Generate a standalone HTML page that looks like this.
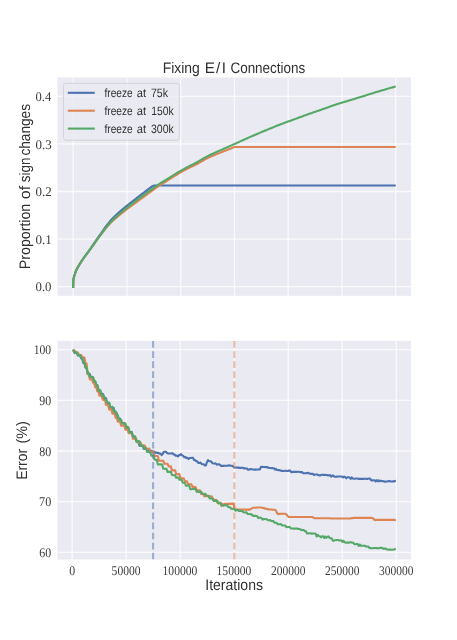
<!DOCTYPE html>
<html><head><meta charset="utf-8"><title>Fixing E/I Connections</title>
<style>
html,body{margin:0;padding:0;background:#fff;}
svg{display:block;text-rendering:geometricPrecision;}
.ss{font-family:"Liberation Sans","DejaVu Sans",sans-serif;fill:#303030;}
.sr{font-family:"Liberation Serif","DejaVu Serif",serif;fill:#3c3c3c;}
</style></head><body>
<svg width="457" height="640" viewBox="0 0 457 640">
<rect width="457" height="640" fill="#fff"/>
<defs><clipPath id="ct"><rect x="57.5" y="77.5" width="353.5" height="218.4"/></clipPath><clipPath id="cb"><rect x="57.5" y="340.9" width="353.5" height="218.6"/></clipPath></defs>
<rect x="57.5" y="77.45" width="353.5" height="218.4" fill="#eaeaf2"/>
<rect x="57.5" y="340.9" width="353.5" height="218.6" fill="#eaeaf2"/>
<g stroke="#fff" stroke-opacity="0.75" stroke-width="1.3"><line x1="73.20" x2="73.20" y1="77.45" y2="295.9"/><line x1="72.20" x2="72.20" y1="340.9" y2="559.5"/><line x1="126.95" x2="126.95" y1="77.45" y2="295.9"/><line x1="126.22" x2="126.22" y1="340.9" y2="559.5"/><line x1="180.70" x2="180.70" y1="77.45" y2="295.9"/><line x1="180.23" x2="180.23" y1="340.9" y2="559.5"/><line x1="234.45" x2="234.45" y1="77.45" y2="295.9"/><line x1="234.25" x2="234.25" y1="340.9" y2="559.5"/><line x1="288.20" x2="288.20" y1="77.45" y2="295.9"/><line x1="288.27" x2="288.27" y1="340.9" y2="559.5"/><line x1="341.95" x2="341.95" y1="77.45" y2="295.9"/><line x1="342.28" x2="342.28" y1="340.9" y2="559.5"/><line x1="395.70" x2="395.70" y1="77.45" y2="295.9"/><line x1="396.30" x2="396.30" y1="340.9" y2="559.5"/><line x1="57.5" x2="411.0" y1="286.70" y2="286.70"/><line x1="57.5" x2="411.0" y1="239.10" y2="239.10"/><line x1="57.5" x2="411.0" y1="191.50" y2="191.50"/><line x1="57.5" x2="411.0" y1="143.90" y2="143.90"/><line x1="57.5" x2="411.0" y1="96.30" y2="96.30"/><line x1="57.5" x2="411.0" y1="552.40" y2="552.40"/><line x1="57.5" x2="411.0" y1="501.70" y2="501.70"/><line x1="57.5" x2="411.0" y1="451.00" y2="451.00"/><line x1="57.5" x2="411.0" y1="400.30" y2="400.30"/><line x1="57.5" x2="411.0" y1="349.60" y2="349.60"/></g>
<g clip-path="url(#ct)" fill="none" stroke-width="2.1" stroke-linejoin="round" stroke-linecap="square">
<polyline stroke="#4c72b0" points="73.20,286.90 73.21,286.30 73.21,285.46 73.21,284.47 73.23,283.42 73.25,282.40 73.30,281.50 73.37,280.71 73.44,279.95 73.54,279.22 73.64,278.53 73.77,277.85 73.90,277.20 74.06,276.57 74.24,275.98 74.43,275.41 74.63,274.86 74.82,274.32 75.00,273.80 75.14,273.33 75.24,272.91 75.34,272.52 75.47,272.09 75.64,271.60 75.90,271.00 76.25,270.27 76.67,269.43 77.15,268.53 77.66,267.59 78.18,266.65 78.70,265.75 79.22,264.88 79.75,264.00 80.29,263.12 80.85,262.25 81.42,261.38 82.00,260.50 82.60,259.62 83.21,258.75 83.83,257.88 84.47,257.00 85.11,256.12 85.75,255.21 86.40,254.30 87.05,253.40 87.71,252.50 88.37,251.60 89.04,250.68 89.70,249.75 90.37,248.79 91.05,247.81 91.73,246.83 92.40,245.84 93.06,244.87 93.70,243.94 94.31,243.04 94.88,242.18 95.44,241.34 96.01,240.49 96.59,239.64 97.20,238.75 97.85,237.83 98.52,236.89 99.20,235.94 99.90,234.98 100.60,234.00 101.30,233.01 101.99,232.02 102.66,231.03 103.35,230.03 104.05,229.01 104.78,227.98 105.55,226.93 106.38,225.84 107.26,224.71 108.17,223.56 109.09,222.42 110.00,221.31 110.90,220.27 111.77,219.30 112.64,218.38 113.50,217.49 114.36,216.63 115.23,215.79 116.10,214.99 116.98,214.18 117.86,213.39 118.74,212.61 119.62,211.84 120.51,211.08 121.40,210.31 122.29,209.56 123.17,208.82 124.05,208.08 124.94,207.35 125.86,206.60 126.80,205.84 127.79,205.05 128.81,204.24 129.86,203.42 130.91,202.61 131.93,201.82 132.90,201.06 133.82,200.33 134.70,199.64 135.55,198.96 136.39,198.30 137.24,197.64 138.10,196.96 138.98,196.28 139.86,195.60 140.75,194.94 141.64,194.27 142.52,193.61 143.40,192.94 144.25,192.29 145.08,191.65 145.90,191.02 146.74,190.37 147.64,189.69 148.60,188.98 149.67,188.18 150.84,187.31 152.05,186.41 153.90,185.50 394.70,185.50"/>
<polyline stroke="#dd8452" points="73.20,286.90 73.21,286.30 73.21,285.46 73.21,284.47 73.23,283.42 73.25,282.40 73.30,281.50 73.37,280.71 73.44,279.95 73.54,279.22 73.64,278.53 73.77,277.85 73.90,277.20 74.06,276.57 74.24,275.98 74.43,275.41 74.63,274.86 74.82,274.32 75.00,273.80 75.14,273.33 75.24,272.91 75.34,272.52 75.47,272.09 75.64,271.60 75.90,271.00 76.25,270.27 76.67,269.43 77.15,268.53 77.66,267.59 78.18,266.65 78.70,265.75 79.22,264.88 79.75,264.00 80.29,263.12 80.85,262.25 81.42,261.38 82.00,260.50 82.60,259.62 83.21,258.75 83.83,257.88 84.47,257.00 85.11,256.12 85.75,255.25 86.40,254.38 87.05,253.51 87.71,252.65 88.37,251.78 89.04,250.90 89.70,250.00 90.37,249.09 91.05,248.16 91.73,247.22 92.40,246.28 93.06,245.36 93.70,244.47 94.31,243.62 94.88,242.81 95.44,242.00 96.01,241.20 96.59,240.39 97.20,239.54 97.85,238.67 98.52,237.79 99.20,236.88 99.90,235.97 100.60,235.07 101.30,234.17 101.99,233.27 102.66,232.36 103.35,231.44 104.05,230.51 104.78,229.57 105.55,228.61 106.38,227.63 107.26,226.60 108.17,225.56 109.09,224.54 110.00,223.55 110.90,222.62 111.77,221.75 112.64,220.94 113.50,220.16 114.36,219.40 115.23,218.65 116.10,217.89 116.98,217.13 117.86,216.38 118.74,215.64 119.62,214.91 120.51,214.19 121.40,213.47 122.29,212.76 123.17,212.06 124.05,211.36 124.94,210.67 125.86,209.97 126.80,209.25 127.79,208.51 128.81,207.75 129.86,206.98 130.91,206.22 131.93,205.47 132.90,204.76 133.82,204.08 134.70,203.43 135.55,202.79 136.39,202.17 137.24,201.55 138.10,200.89 138.98,200.24 139.86,199.60 140.75,198.96 141.64,198.33 142.52,197.69 143.40,197.06 144.25,196.43 145.08,195.82 145.90,195.21 146.74,194.59 147.64,193.93 148.60,193.22 149.67,192.43 150.84,191.57 152.05,190.68 153.26,189.79 154.43,188.94 155.50,188.17 156.47,187.49 157.37,186.87 158.23,186.28 159.06,185.73 159.89,185.18 160.75,184.63 161.61,184.10 162.45,183.60 163.28,183.12 164.14,182.62 165.04,182.09 166.00,181.50 167.02,180.85 168.08,180.15 169.19,179.43 170.33,178.67 171.50,177.91 172.70,177.15 173.94,176.38 175.22,175.59 176.53,174.79 177.86,173.99 179.21,173.18 180.55,172.41 181.91,171.65 183.31,170.88 184.72,170.12 186.11,169.37 187.48,168.65 188.80,167.97 190.03,167.36 191.19,166.81 192.32,166.30 193.47,165.77 194.68,165.19 196.00,164.51 197.44,163.72 198.96,162.85 200.54,161.92 202.17,160.97 203.83,160.03 205.50,159.14 207.24,158.26 209.09,157.37 210.97,156.51 212.80,155.71 214.50,154.98 216.00,154.34 217.19,153.84 218.09,153.48 218.88,153.19 219.69,152.88 220.68,152.51 222.00,151.98 223.74,151.28 225.78,150.45 228.01,149.56 230.29,148.65 232.49,147.76 234.50,146.95 394.70,146.95"/>
<polyline stroke="#55a868" points="73.20,286.90 73.21,286.30 73.21,285.46 73.21,284.47 73.23,283.42 73.25,282.40 73.30,281.50 73.37,280.71 73.44,279.95 73.54,279.22 73.64,278.53 73.77,277.85 73.90,277.20 74.06,276.57 74.24,275.98 74.43,275.41 74.63,274.86 74.82,274.32 75.00,273.80 75.14,273.33 75.24,272.91 75.34,272.52 75.47,272.09 75.64,271.60 75.90,271.00 76.25,270.27 76.67,269.43 77.15,268.53 77.66,267.59 78.18,266.65 78.70,265.75 79.22,264.88 79.75,264.00 80.29,263.12 80.85,262.25 81.42,261.38 82.00,260.50 82.60,259.62 83.21,258.75 83.83,257.88 84.47,257.00 85.11,256.12 85.75,255.25 86.40,254.38 87.05,253.51 87.71,252.65 88.37,251.78 89.04,250.90 89.70,250.00 90.37,249.08 91.05,248.14 91.73,247.18 92.40,246.24 93.06,245.30 93.70,244.40 94.31,243.54 94.88,242.71 95.44,241.89 96.01,241.08 96.59,240.26 97.20,239.40 97.85,238.52 98.52,237.61 99.20,236.70 99.90,235.77 100.60,234.84 101.30,233.90 101.99,232.96 102.66,232.01 103.35,231.05 104.05,230.08 104.78,229.10 105.55,228.10 106.38,227.06 107.26,225.99 108.17,224.90 109.09,223.82 110.00,222.78 110.90,221.80 111.77,220.89 112.64,220.02 113.50,219.19 114.36,218.39 115.23,217.60 116.10,216.80 116.98,216.01 117.86,215.23 118.74,214.46 119.62,213.70 120.51,212.95 121.40,212.20 122.29,211.46 123.17,210.73 124.05,210.01 124.94,209.28 125.86,208.55 126.80,207.80 127.79,207.03 128.81,206.23 129.86,205.43 130.91,204.63 131.93,203.85 132.90,203.10 133.82,202.39 134.70,201.71 135.55,201.04 136.39,200.39 137.24,199.75 138.10,199.10 138.98,198.46 139.86,197.82 140.75,197.19 141.64,196.56 142.52,195.93 143.40,195.30 144.25,194.68 145.08,194.08 145.90,193.48 146.74,192.86 147.64,192.20 148.60,191.50 149.67,190.72 150.84,189.87 152.05,188.98 153.26,188.10 154.43,187.26 155.50,186.50 156.47,185.83 157.37,185.21 158.23,184.63 159.06,184.08 159.89,183.54 160.75,183.00 161.61,182.47 162.45,181.98 163.28,181.50 164.14,181.01 165.04,180.48 166.00,179.90 167.02,179.26 168.08,178.57 169.19,177.85 170.33,177.11 171.50,176.35 172.70,175.60 173.94,174.84 175.22,174.06 176.53,173.27 177.86,172.47 179.21,171.68 180.55,170.90 181.91,170.12 183.31,169.34 184.72,168.55 186.11,167.79 187.48,167.05 188.80,166.35 190.03,165.72 191.19,165.16 192.32,164.63 193.47,164.09 194.68,163.49 196.00,162.80 197.44,161.99 198.96,161.10 200.54,160.15 202.17,159.18 203.83,158.22 205.50,157.30 207.24,156.40 209.09,155.48 210.97,154.57 212.80,153.70 214.50,152.90 216.00,152.20 217.19,151.66 218.09,151.26 218.88,150.93 219.69,150.60 220.68,150.18 222.00,149.60 223.74,148.83 225.78,147.91 228.01,146.92 230.29,145.90 232.49,144.90 234.50,144.00 236.32,143.18 238.04,142.39 239.69,141.64 241.29,140.91 242.86,140.20 244.40,139.50 245.88,138.84 247.27,138.21 248.62,137.61 250.00,137.01 251.44,136.38 253.00,135.70 254.69,134.97 256.48,134.21 258.33,133.42 260.23,132.62 262.16,131.81 264.10,131.00 266.06,130.18 268.07,129.35 270.11,128.51 272.15,127.67 274.19,126.85 276.20,126.05 278.19,125.27 280.19,124.51 282.17,123.77 284.14,123.03 286.08,122.31 288.00,121.60 289.90,120.90 291.78,120.21 293.64,119.54 295.47,118.88 297.26,118.23 299.00,117.60 300.66,116.99 302.24,116.40 303.78,115.82 305.31,115.26 306.88,114.68 308.50,114.10 310.19,113.51 311.93,112.91 313.69,112.31 315.46,111.71 317.24,111.11 319.00,110.50 320.73,109.89 322.44,109.29 324.15,108.68 325.88,108.07 327.66,107.44 329.50,106.80 331.52,106.10 333.74,105.35 335.99,104.58 338.15,103.85 340.07,103.21 341.60,102.70 342.54,102.39 342.96,102.26 343.13,102.22 343.35,102.17 343.88,102.03 345.00,101.70 346.79,101.17 349.04,100.51 351.60,99.75 354.34,98.94 357.10,98.11 359.75,97.30 362.31,96.50 364.90,95.67 367.52,94.82 370.16,93.97 372.82,93.13 375.50,92.30 378.37,91.44 381.46,90.54 384.57,89.64 387.49,88.80 390.04,88.07 392.00,87.50 393.28,87.13 394.02,86.91 394.38,86.80 394.51,86.76 394.57,86.74 394.70,86.70"/>
</g>
<g clip-path="url(#cb)" fill="none" stroke-width="2.1" stroke-linejoin="round" stroke-linecap="square">
<polyline stroke="#4c72b0" points="73.60,350.90 74.68,352.90 75.76,352.76 76.84,352.76 77.92,355.53 79.00,355.53 80.08,355.41 81.16,358.36 82.24,358.46 83.32,363.01 84.40,362.97 85.48,367.62 86.56,367.62 87.64,374.08 88.72,373.99 89.80,373.99 90.88,377.55 91.96,377.55 93.04,377.81 94.12,381.54 95.20,381.53 96.28,385.44 97.36,385.27 98.44,389.73 99.52,389.91 100.60,393.96 101.68,393.84 102.76,393.84 103.84,398.14 104.92,398.14 106.00,398.10 107.08,403.23 108.16,403.40 109.24,403.40 110.32,407.62 111.40,407.62 112.48,407.71 113.56,407.71 114.64,413.06 115.72,413.06 116.80,413.32 117.88,418.55 118.96,418.54 120.04,418.54 121.12,422.74 122.20,422.74 123.28,423.02 124.36,423.02 125.44,427.08 126.52,427.08 127.60,426.88 128.68,431.93 129.76,432.08 130.84,432.08 131.92,432.15 133.00,437.16 134.08,437.27 135.16,437.27 136.24,441.03 137.32,441.03 138.40,441.29 139.48,445.82 140.56,445.86 141.64,445.86 142.72,445.66 143.80,449.03 144.70,448.40 153.00,451.60 154.08,451.64 155.16,452.61 156.24,452.61 157.32,452.85 158.40,452.85 159.48,453.64 160.56,453.64 161.64,455.09 162.72,453.98 163.80,451.73 164.88,451.73 165.96,451.70 167.04,453.12 168.12,453.48 169.20,453.48 170.28,453.46 171.36,453.46 172.44,453.13 173.52,454.46 174.60,454.47 175.68,455.81 176.76,455.64 177.84,456.46 178.92,455.17 180.00,455.17 181.08,454.11 182.16,455.35 183.24,455.85 184.32,457.31 185.40,457.15 186.48,458.08 187.56,457.90 188.64,459.02 189.72,458.03 190.80,458.03 191.88,457.78 192.96,457.78 194.04,460.01 195.12,460.01 196.20,461.18 197.28,461.18 198.36,463.00 199.44,463.00 200.52,462.58 201.60,463.93 202.68,464.26 203.76,464.26 204.84,465.45 205.92,465.45 207.00,462.03 208.08,460.13 209.16,461.30 210.24,461.30 211.32,461.59 212.40,463.25 213.48,463.46 214.56,463.46 215.64,463.34 216.72,464.65 217.80,464.35 218.88,464.35 219.96,464.77 221.04,465.90 222.12,465.88 223.20,465.88 224.28,465.80 225.36,465.80 226.44,465.78 227.52,465.78 228.60,465.42 229.68,465.42 230.76,465.81 231.84,465.81 232.92,466.19 234.00,467.55 235.08,467.46 236.16,467.46 237.24,467.65 238.32,467.65 239.40,467.87 240.48,467.87 241.56,467.70 242.64,467.70 243.72,468.38 244.80,468.38 245.88,468.53 246.96,468.53 248.04,469.66 249.12,469.66 250.20,469.13 251.28,469.13 252.36,469.55 253.44,469.55 254.52,469.65 255.60,469.65 256.68,469.51 257.76,469.51 258.84,469.43 259.92,469.43 261.00,466.84 262.08,466.84 263.16,467.03 264.24,467.03 265.32,467.10 266.40,467.10 267.48,466.95 268.56,467.95 269.64,467.98 270.72,467.98 271.80,468.17 272.88,468.17 273.96,468.33 275.04,469.71 276.12,468.93 277.20,470.05 278.28,470.09 279.36,470.09 280.44,470.63 281.52,470.63 282.60,470.96 283.68,470.96 284.76,470.69 285.84,470.69 286.92,471.05 288.00,471.05 289.08,470.58 290.16,470.58 291.24,472.09 292.32,472.09 293.40,471.87 294.48,471.87 295.56,471.89 296.64,471.89 297.72,471.74 298.80,471.74 299.88,472.08 300.96,472.08 302.04,472.02 303.12,473.22 304.20,473.31 305.28,473.31 306.36,473.10 307.44,473.10 308.52,472.82 309.60,473.60 310.68,473.86 311.76,473.86 312.84,473.87 313.92,474.93 315.00,474.50 316.08,474.50 317.16,474.48 318.24,475.07 319.32,475.38 320.40,475.38 321.48,474.81 322.56,474.81 323.64,474.84 324.72,474.84 325.80,475.04 326.88,475.04 327.96,475.40 329.04,475.40 330.12,475.10 331.20,476.60 332.28,475.66 333.36,475.66 334.44,476.72 335.52,476.72 336.60,476.58 337.68,476.58 338.76,476.46 339.84,476.46 340.92,476.48 342.00,476.48 343.08,477.47 344.16,476.62 345.24,477.10 346.32,478.33 347.40,477.25 348.48,477.25 349.56,477.45 350.64,478.84 351.72,477.40 352.80,478.40 353.88,478.70 354.96,478.70 356.04,478.45 357.12,478.45 358.20,478.86 359.28,478.86 360.36,478.85 361.44,478.85 362.52,478.85 363.60,478.85 364.68,478.70 365.76,478.70 366.84,478.86 367.92,478.86 369.00,478.44 370.08,478.44 371.16,480.34 372.24,480.34 373.32,480.22 374.40,480.22 375.48,481.39 376.56,480.19 377.64,481.40 378.72,480.30 379.80,481.27 380.88,480.74 381.96,481.12 383.04,481.12 384.12,481.58 385.20,481.58 386.28,481.50 387.36,481.50 388.44,481.12 389.52,481.12 390.60,481.48 391.68,481.48 392.76,481.36 393.84,481.36 394.85,481.10"/>
<polyline stroke="#dd8452" points="73.60,350.50 74.68,350.47 75.76,352.67 76.84,352.67 77.92,352.56 79.00,354.97 80.08,354.93 81.16,354.93 82.24,357.41 83.32,357.41 84.40,357.48 85.48,363.29 86.56,363.43 87.64,374.01 88.72,373.95 89.80,379.40 90.88,379.40 91.96,379.40 93.04,382.70 94.12,382.70 95.20,387.13 96.28,387.13 97.36,391.52 98.44,391.52 99.52,395.70 100.60,395.70 101.68,395.68 102.76,399.74 103.84,399.90 104.92,399.90 106.00,404.97 107.08,404.97 108.16,405.19 109.24,409.61 110.32,409.39 111.40,409.39 112.48,413.66 113.56,413.66 114.64,413.55 115.72,417.95 116.80,418.13 117.88,421.65 118.96,421.56 120.04,421.56 121.12,425.65 122.20,425.65 123.28,425.58 124.36,425.58 125.44,429.77 126.52,429.77 127.60,429.59 128.68,433.27 129.76,433.31 130.84,433.31 131.92,433.40 133.00,438.74 134.08,438.74 135.16,438.74 136.24,438.67 137.32,442.40 138.40,442.40 139.48,442.40 140.56,442.34 141.64,445.56 142.72,445.62 143.80,445.62 144.88,445.63 145.96,448.64 147.04,448.70 148.12,448.70 149.20,448.61 150.28,451.84 151.36,451.82 152.44,451.82 153.52,451.93 154.60,456.10 155.68,456.05 156.76,456.05 157.84,455.97 158.92,460.67 160.00,460.74 161.08,460.74 162.16,460.68 163.24,460.68 164.32,463.79 165.40,463.79 166.48,463.74 167.56,463.74 168.64,466.35 169.72,466.35 170.80,466.31 171.88,470.26 172.96,470.40 174.04,470.40 175.12,470.27 176.20,473.93 177.28,474.10 178.36,474.10 179.44,474.17 180.52,478.36 181.60,478.29 182.68,478.29 183.76,478.24 184.84,481.24 185.92,481.39 187.00,481.39 188.08,484.11 189.16,484.11 190.24,484.19 191.32,484.19 192.40,486.85 193.48,486.85 194.56,487.09 195.64,487.09 196.72,490.21 197.80,490.21 198.88,490.19 199.96,490.19 201.04,493.85 202.12,493.85 203.20,493.77 204.28,496.31 205.36,496.28 206.44,496.28 207.52,496.19 208.60,496.19 209.68,496.21 210.76,496.21 211.84,496.42 212.92,500.10 214.00,500.08 215.08,500.08 216.16,499.87 217.24,502.58 218.32,502.70 219.40,502.70 220.48,502.81 221.56,506.09 222.64,503.85 223.72,505.25 224.80,503.77 225.88,503.77 226.96,503.89 233.60,503.60 234.68,509.64 235.76,509.64 236.84,509.64 237.92,509.64 239.00,509.64 240.08,509.64 241.16,509.64 242.24,509.64 243.32,509.64 244.40,509.64 245.48,509.64 246.56,509.64 247.64,509.64 248.72,509.64 249.80,509.64 250.88,508.93 251.96,508.37 253.04,507.78 254.12,507.78 255.20,507.78 256.28,507.78 257.36,507.46 258.44,507.46 259.52,507.46 260.60,507.46 261.68,507.46 262.76,508.05 263.84,508.05 264.92,508.60 266.00,508.60 267.08,509.12 268.16,509.12 269.24,509.43 270.32,509.43 271.40,509.43 272.48,509.78 273.56,509.78 274.64,509.78 275.72,510.13 276.80,512.61 277.88,514.07 278.96,513.73 280.04,514.06 281.12,513.75 282.20,513.75 283.28,513.75 284.36,513.75 285.44,513.75 286.52,514.61 287.60,516.06 288.68,516.96 289.76,516.96 290.84,516.96 291.92,516.96 293.00,516.96 294.08,516.96 295.16,516.96 296.24,516.96 297.32,516.96 298.40,516.96 299.48,516.96 300.56,516.96 301.64,516.96 302.72,516.96 303.80,516.96 304.88,516.96 305.96,516.96 307.04,516.96 308.12,516.96 309.20,516.96 310.28,516.96 311.36,516.96 312.44,516.96 313.52,517.77 314.60,518.19 315.68,518.19 316.76,518.19 317.84,518.19 318.92,518.19 320.00,518.19 321.08,518.19 322.16,518.19 323.24,518.19 324.32,518.19 325.40,518.19 326.48,518.19 327.56,518.19 328.64,518.19 329.72,518.19 330.80,518.57 331.88,518.57 332.96,518.57 334.04,518.57 335.12,518.57 336.20,518.57 337.28,518.57 338.36,518.57 339.44,518.57 340.52,518.57 341.60,518.57 342.68,518.57 343.76,518.57 344.84,518.57 345.92,518.57 347.00,518.57 348.08,518.57 349.16,518.57 350.24,518.57 351.32,518.15 352.40,518.15 353.48,517.87 354.56,517.87 355.64,517.87 356.72,517.87 357.80,517.87 358.88,517.87 359.96,517.87 361.04,517.87 362.12,517.87 363.20,517.87 364.28,517.87 365.36,517.87 366.44,517.87 367.52,517.87 368.60,517.87 369.68,517.87 370.76,517.87 371.84,517.87 372.92,518.27 374.00,519.50 375.08,520.16 376.16,519.86 377.24,519.86 378.32,519.86 379.40,519.86 380.48,519.86 381.56,519.86 382.64,519.86 383.72,519.86 384.80,519.86 385.88,519.86 386.96,519.86 388.04,519.86 389.12,519.86 390.20,519.86 391.28,519.86 392.36,519.86 393.44,519.86 394.52,519.86 394.85,520.00"/>
<polyline stroke="#55a868" points="73.60,350.50 74.68,352.31 75.76,352.42 76.84,352.42 77.92,355.19 79.00,355.19 80.08,355.10 81.16,357.60 82.24,357.84 83.32,362.06 84.40,362.19 85.48,367.42 86.56,367.35 87.64,373.06 88.72,372.90 89.80,376.77 90.88,376.69 91.96,376.69 93.04,376.92 94.12,381.34 95.20,381.15 96.28,384.60 97.36,385.05 98.44,390.70 99.52,390.62 100.60,390.62 101.68,395.33 102.76,395.33 103.84,395.28 104.92,399.06 106.00,398.97 107.08,402.50 108.16,402.43 109.24,402.43 110.32,406.98 111.40,406.98 112.48,406.79 113.56,411.26 114.64,411.21 115.72,411.21 116.80,415.33 117.88,415.33 118.96,419.73 120.04,419.73 121.12,419.75 122.20,423.64 123.28,423.41 124.36,423.41 125.44,423.59 126.52,427.82 127.60,427.62 128.68,427.62 129.76,432.51 130.84,432.51 131.92,432.95 133.00,436.47 134.08,436.27 135.16,436.27 136.24,441.66 137.32,441.66 138.40,441.34 139.48,441.34 140.56,445.65 141.64,445.65 142.72,445.62 143.80,447.98 144.88,448.03 145.96,448.03 147.04,452.00 148.12,452.00 149.20,452.10 150.28,452.10 151.36,455.76 152.44,455.76 153.52,455.70 154.60,459.78 155.68,459.79 156.76,459.79 157.84,464.56 158.92,464.56 160.00,464.40 161.08,464.40 162.16,464.51 163.24,468.65 164.32,468.75 165.40,468.75 166.48,468.79 167.56,472.06 168.64,471.91 169.72,471.91 170.80,471.64 171.88,474.79 172.96,475.21 174.04,475.21 175.12,475.02 176.20,477.81 177.28,477.63 178.36,477.63 179.44,479.79 180.52,479.79 181.60,479.49 182.68,482.71 183.76,482.75 184.84,482.75 185.92,485.68 187.00,485.68 188.08,485.55 189.16,485.55 190.24,489.28 191.32,489.28 192.40,489.06 193.48,489.06 194.56,489.05 195.64,489.05 196.72,491.79 197.80,491.79 198.88,491.97 199.96,491.97 201.04,491.57 202.12,493.60 203.20,494.04 204.28,494.04 205.36,493.70 206.44,495.71 207.52,495.68 208.60,495.68 209.68,498.39 210.76,498.39 211.84,498.48 212.92,498.48 214.00,501.03 215.08,501.03 216.16,500.68 217.24,500.68 218.32,503.36 219.40,503.36 220.48,502.93 221.56,505.04 222.64,505.53 223.72,505.53 224.80,505.17 225.88,505.17 226.96,505.07 228.04,506.83 229.12,507.29 230.20,507.29 231.28,508.77 232.36,508.77 233.44,509.10 234.52,509.10 235.60,510.76 236.68,509.72 237.76,509.78 238.84,510.93 239.92,511.07 241.00,511.07 242.08,510.80 243.16,512.09 244.24,512.49 245.32,512.49 246.40,512.17 247.48,513.96 248.56,514.03 249.64,514.03 250.72,514.39 251.80,514.39 252.88,515.89 253.96,515.89 255.04,515.89 256.12,515.89 257.20,516.30 258.28,518.01 259.36,517.66 260.44,517.66 261.52,518.16 262.60,519.55 263.68,519.01 264.76,519.01 265.84,519.25 266.92,519.25 268.00,520.25 269.08,520.25 270.16,520.02 271.24,521.07 272.32,521.08 273.40,521.08 274.48,522.70 275.56,522.70 276.64,522.75 277.72,524.29 278.80,524.32 279.88,524.32 280.96,524.04 282.04,525.43 283.12,525.43 284.20,525.43 285.28,525.47 286.36,527.15 287.44,527.02 288.52,527.02 289.60,527.04 290.68,528.18 291.76,528.57 292.84,528.57 293.92,528.64 295.00,528.64 296.08,528.51 297.16,528.51 298.24,529.06 299.32,529.06 300.40,529.30 301.48,530.14 302.56,529.95 303.64,529.95 304.72,531.08 305.80,531.08 306.88,533.34 307.96,533.34 309.04,533.27 310.12,533.27 311.20,533.60 312.28,533.60 313.36,533.52 314.44,533.52 315.52,533.55 316.60,536.47 317.68,534.82 318.76,536.00 319.84,536.17 320.92,537.43 322.00,536.34 323.08,536.34 324.16,537.87 325.24,536.48 326.32,537.86 327.40,536.72 328.48,536.39 329.56,537.90 330.64,538.39 331.72,538.39 332.80,540.58 333.88,540.58 334.96,540.24 336.04,540.24 337.12,540.07 338.20,540.07 339.28,540.47 340.36,540.47 341.44,540.28 342.52,541.98 343.60,540.85 344.68,542.30 345.76,542.60 346.84,542.60 347.92,542.67 349.00,542.67 350.08,542.28 351.16,542.28 352.24,542.68 353.32,542.68 354.40,544.28 355.48,544.28 356.56,544.01 357.64,544.01 358.72,545.93 359.80,544.51 360.88,545.72 361.96,545.72 363.04,545.79 364.12,545.79 365.20,545.90 366.28,546.73 367.36,546.49 368.44,546.49 369.52,548.14 370.60,548.14 371.68,548.32 372.76,548.32 373.84,548.07 374.92,548.07 376.00,548.12 377.08,548.12 378.16,548.22 379.24,548.22 380.32,547.85 381.40,547.85 382.48,548.06 383.56,548.84 384.64,548.58 385.72,548.58 386.80,549.56 387.88,549.56 388.96,549.59 390.04,549.59 391.12,549.74 392.20,549.74 393.28,549.54 394.36,549.54 394.85,549.20"/>
<line x1="153.1" x2="153.1" y1="559.5" y2="340.9" stroke="#4c72b0" stroke-opacity="0.5" stroke-dasharray="6.7 3.38" stroke-linecap="butt"/>
<line x1="234.3" x2="234.3" y1="559.5" y2="340.9" stroke="#dd8452" stroke-opacity="0.5" stroke-dasharray="6.7 3.38" stroke-linecap="butt"/>
</g>
<rect x="63.5" y="83.3" width="115.9" height="56.9" rx="2.6" ry="2.6" fill="#eaeaf2" fill-opacity="0.8" stroke="#cfcfd4" stroke-opacity="0.9" stroke-width="1"/>
<line x1="68.85" x2="93.75" y1="92.8" y2="92.8" stroke="#4c72b0" stroke-width="2.1" stroke-linecap="square"/>
<line x1="68.85" x2="93.75" y1="110.7" y2="110.7" stroke="#dd8452" stroke-width="2.1" stroke-linecap="square"/>
<line x1="68.85" x2="93.75" y1="128.6" y2="128.6" stroke="#55a868" stroke-width="2.1" stroke-linecap="square"/>
<text x="162.65" y="72.90" class="ss" font-size="15.2" textLength="37.20" lengthAdjust="spacingAndGlyphs">Fixing</text>
<text x="204.65" y="72.90" class="ss" font-size="15.2" textLength="21.25" lengthAdjust="spacing">E/I</text>
<text x="230.45" y="72.90" class="ss" font-size="15.2" textLength="74.75" lengthAdjust="spacingAndGlyphs">Connections</text>
<text x="205.25" y="590.30" class="ss" font-size="15.2" textLength="57.75" lengthAdjust="spacingAndGlyphs">Iterations</text>
<text x="104.45" y="96.95" class="ss" font-size="12.1" textLength="28.20" lengthAdjust="spacingAndGlyphs">freeze</text>
<text x="136.70" y="96.95" class="ss" font-size="12.1" textLength="9.35" lengthAdjust="spacingAndGlyphs">at</text>
<text x="151.00" y="96.95" class="ss" font-size="12.1" textLength="17.00" lengthAdjust="spacingAndGlyphs">75k</text>
<text x="104.45" y="114.85" class="ss" font-size="12.1" textLength="28.20" lengthAdjust="spacingAndGlyphs">freeze</text>
<text x="136.70" y="114.85" class="ss" font-size="12.1" textLength="9.35" lengthAdjust="spacingAndGlyphs">at</text>
<text x="151.35" y="114.85" class="ss" font-size="12.1" textLength="22.45" lengthAdjust="spacingAndGlyphs">150k</text>
<text x="104.45" y="132.75" class="ss" font-size="12.1" textLength="28.20" lengthAdjust="spacingAndGlyphs">freeze</text>
<text x="136.70" y="132.75" class="ss" font-size="12.1" textLength="9.35" lengthAdjust="spacingAndGlyphs">at</text>
<text x="151.00" y="132.75" class="ss" font-size="12.1" textLength="22.90" lengthAdjust="spacingAndGlyphs">300k</text>
<text transform="translate(30.30,269.15) rotate(-90)" class="ss" font-size="15.2" textLength="65.40" lengthAdjust="spacingAndGlyphs">Proportion</text>
<text transform="translate(30.30,199.15) rotate(-90)" class="ss" font-size="15.2" textLength="13.45" lengthAdjust="spacingAndGlyphs">of</text>
<text transform="translate(30.30,182.30) rotate(-90)" class="ss" font-size="15.2" textLength="24.75" lengthAdjust="spacingAndGlyphs">sign</text>
<text transform="translate(30.30,155.60) rotate(-90)" class="ss" font-size="15.2" textLength="51.65" lengthAdjust="spacingAndGlyphs">changes</text>
<text transform="translate(26.90,479.85) rotate(-90)" class="ss" font-size="15.2" textLength="30.85" lengthAdjust="spacingAndGlyphs">Error</text>
<text transform="translate(26.90,443.60) rotate(-90)" class="ss" font-size="15.2" textLength="22.50" lengthAdjust="spacingAndGlyphs">(%)</text>
<text x="35.50" y="291.35" class="sr" font-size="13.2" textLength="15.95" lengthAdjust="spacingAndGlyphs">0.0</text>
<text x="35.50" y="243.75" class="sr" font-size="13.2" textLength="16.45" lengthAdjust="spacingAndGlyphs">0.1</text>
<text x="35.50" y="196.15" class="sr" font-size="13.2" textLength="16.20" lengthAdjust="spacingAndGlyphs">0.2</text>
<text x="35.50" y="148.55" class="sr" font-size="13.2" textLength="16.20" lengthAdjust="spacingAndGlyphs">0.3</text>
<text x="35.50" y="100.95" class="sr" font-size="13.2" textLength="15.70" lengthAdjust="spacingAndGlyphs">0.4</text>
<text x="39.30" y="557.05" class="sr" font-size="13.2" textLength="11.95" lengthAdjust="spacingAndGlyphs">60</text>
<text x="39.05" y="506.35" class="sr" font-size="13.2" textLength="12.20" lengthAdjust="spacingAndGlyphs">70</text>
<text x="39.30" y="455.65" class="sr" font-size="13.2" textLength="11.95" lengthAdjust="spacingAndGlyphs">80</text>
<text x="39.30" y="404.95" class="sr" font-size="13.2" textLength="11.95" lengthAdjust="spacingAndGlyphs">90</text>
<text x="33.70" y="354.25" class="sr" font-size="13.2" textLength="17.45" lengthAdjust="spacingAndGlyphs">100</text>
<text x="69.17" y="575.25" class="sr" font-size="13.2" textLength="5.92" lengthAdjust="spacingAndGlyphs">0</text>
<text x="111.62" y="575.25" class="sr" font-size="13.2" textLength="28.90" lengthAdjust="spacingAndGlyphs">50000</text>
<text x="162.55" y="575.25" class="sr" font-size="13.2" textLength="34.77" lengthAdjust="spacingAndGlyphs">100000</text>
<text x="216.57" y="575.25" class="sr" font-size="13.2" textLength="34.77" lengthAdjust="spacingAndGlyphs">150000</text>
<text x="271.09" y="575.25" class="sr" font-size="13.2" textLength="34.27" lengthAdjust="spacingAndGlyphs">200000</text>
<text x="325.10" y="575.25" class="sr" font-size="13.2" textLength="34.27" lengthAdjust="spacingAndGlyphs">250000</text>
<text x="379.12" y="575.25" class="sr" font-size="13.2" textLength="34.27" lengthAdjust="spacingAndGlyphs">300000</text>
</svg>
</body></html>
